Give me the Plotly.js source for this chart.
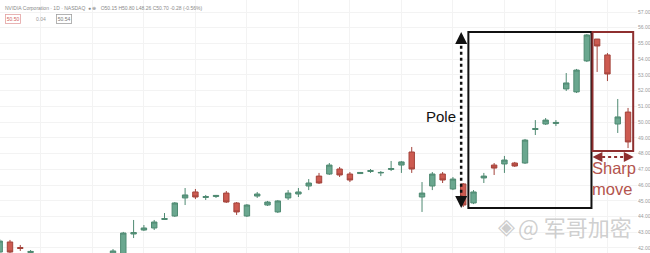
<!DOCTYPE html>
<html>
<head>
<meta charset="utf-8">
<script src="https://cdn.plot.ly/plotly-3.0.1.min.js"></script>
<style>
html,body{margin:0;padding:0;background:#fff;}
#chart{width:650px;height:253px;}
</style>
</head>
<body>
<div id="chart"></div>
<script>
// Bar index (daily sessions) and OHLC values
const bars  = [-1,0,1,2,10,11,12,13,14,15,16,17,18,19,20,21,22,23,24,25,26,27,28,29,30,31,32,33,34,35,36,37,38,39,40,41,42,43,44,45,46,47,48,49,50,51,52,53,54,55,56,57,58,59,60];
const open  = [41.74,42.38,42.03,41.71,41.49,41.49,42.89,43.14,43.27,43.81,44.03,45.18,45.56,45.21,45.27,45.49,44.86,44.03,45.30,44.73,44.29,45.18,45.43,45.94,46.57,46.70,47.02,46.70,46.73,46.86,46.77,46.99,47.27,48.10,45.24,45.94,46.70,45.75,46.07,44.86,46.45,47.27,47.34,47.40,47.40,49.53,49.88,49.91,52.11,51.92,53.89,55.28,54.27,49.88,50.64];
const high  = [42.57,42.51,42.19,41.87,41.93,43.02,43.78,43.46,43.78,44.22,44.92,45.81,45.75,45.37,45.37,45.62,44.92,44.79,45.56,44.99,45.05,45.68,45.81,46.38,46.77,47.40,47.15,46.83,46.83,47.02,46.89,47.53,47.53,48.42,46.19,46.83,46.83,46.51,46.13,45.68,46.77,47.40,47.85,47.47,48.93,50.13,50.26,50.13,53.12,53.38,55.60,55.28,54.39,51.47,50.90];
const low   = [41.68,41.68,41.81,41.62,41.30,41.36,42.63,43.08,43.14,43.78,43.97,44.73,45.11,45.05,45.18,44.86,44.10,43.97,45.18,44.67,44.22,45.05,45.24,45.68,46.07,46.64,46.51,46.19,46.70,46.77,46.57,46.89,46.77,46.77,44.29,45.68,46.13,45.68,44.60,44.79,46.13,46.64,46.77,47.15,47.34,49.18,49.82,49.75,51.98,51.85,53.82,53.19,52.61,49.31,48.35];
const close = [42.44,41.74,41.97,41.78,41.81,42.95,42.98,43.27,43.65,43.87,44.86,45.37,45.24,45.27,45.34,44.92,44.29,44.73,45.43,44.92,44.99,45.49,45.56,46.13,46.13,47.27,46.64,46.32,46.80,46.92,46.80,47.05,47.47,47.02,45.49,46.70,46.32,46.38,44.73,45.56,46.57,47.08,47.59,47.21,48.86,49.59,50.13,49.98,52.49,53.31,55.54,54.84,53.06,50.33,48.74];
const priceTicks = [42,43,44,45,46,47,48,49,50,51,52,53,54,55,56,57];

const trace = {
  type: 'candlestick',
  x: bars, open: open, high: high, low: low, close: close,
  increasing: {line: {color: '#4f8a72', width: 1}, fillcolor: '#6aa78f'},
  decreasing: {line: {color: '#a3433b', width: 1}, fillcolor: '#cd5b51'},
  whiskerwidth: 0,
  hoverinfo: 'skip'
};

const poleColor = '#111111';
const moveColor = '#8e2f2f';

const layout = {
  width: 650, height: 253,
  margin: {l: 0, r: 13, t: 0, b: 0},
  paper_bgcolor: '#ffffff', plot_bgcolor: '#ffffff',
  showlegend: false,
  boxgap: 0.25,
  xaxis: {
    range: [-0.97, 60.87], rangeslider: {visible: false},
    showticklabels: false, ticks: '', zeroline: false,
    showgrid: true, gridcolor: '#f3f3f3', tick0: 3, dtick: 5,
    showline: false, fixedrange: true
  },
  yaxis: {
    side: 'right', range: [41.68, 57.763],
    tickvals: priceTicks, tickformat: '.2f',
    tickfont: {family: 'Liberation Sans, Arial, sans-serif', size: 5, color: '#9a9a9a'},
    showgrid: true, gridcolor: '#f3f3f3', zeroline: false, ticks: '',
    ticklabelposition: 'outside', showline: false, fixedrange: true
  },
  shapes: [
    // pole box
    {type: 'rect', xref: 'x', yref: 'y', x0: 44.5, x1: 56.45, y0: 44.54, y1: 55.73,
     line: {color: poleColor, width: 2}},
    // vertical dotted arrow
    {type: 'line', xref: 'x', yref: 'y', x0: 43.8, x1: 43.8, y0: 44.75, y1: 55.5,
     line: {color: poleColor, width: 2.5, dash: 'dot'}},
    // sharp move box
    {type: 'rect', xref: 'x', yref: 'y', x0: 56.55, x1: 60.5, y0: 48.16, y1: 55.73,
     line: {color: moveColor, width: 2}},
    // horizontal dotted arrow
    {type: 'line', xref: 'x', yref: 'y', x0: 56.9, x1: 60.3, y0: 47.78, y1: 47.78,
     line: {color: moveColor, width: 2, dash: 'dot'}}
  ],
  annotations: [
    // arrowheads
    {xref: 'x', yref: 'y', x: 43.8, y: 55.73, ax: 0, ay: 7, text: '', showarrow: true,
     arrowhead: 2, arrowsize: 1.2, arrowwidth: 2, arrowcolor: poleColor},
    {xref: 'x', yref: 'y', x: 43.8, y: 44.54, ax: 0, ay: -7, text: '', showarrow: true,
     arrowhead: 2, arrowsize: 1.2, arrowwidth: 2, arrowcolor: poleColor},
    {xref: 'x', yref: 'y', x: 56.55, y: 47.78, ax: 7, ay: 0, text: '', showarrow: true,
     arrowhead: 2, arrowsize: 1.1, arrowwidth: 1.8, arrowcolor: moveColor},
    {xref: 'x', yref: 'y', x: 60.55, y: 47.78, ax: -7, ay: 0, text: '', showarrow: true,
     arrowhead: 2, arrowsize: 1.1, arrowwidth: 1.8, arrowcolor: moveColor},
    // labels
    {xref: 'x', yref: 'y', x: 41.8, y: 50.33, text: 'Pole', showarrow: false,
     font: {family: 'Liberation Sans, Arial, sans-serif', size: 15, color: '#111'}},
    {xref: 'x', yref: 'y', x: 56.4, y: 46.4, xanchor: 'left', yanchor: 'middle', align: 'left',
     text: 'Sharp<br>move', showarrow: false, borderpad: 0,
     font: {family: 'Liberation Sans, Arial, sans-serif', size: 16.5, color: '#b3544d'}},
    // watermark
    {xref: 'paper', yref: 'paper', x: 0.795, y: 0.105, xanchor: 'center', yanchor: 'middle',
     text: '◈', showarrow: false,
     font: {family: 'DejaVu Sans, sans-serif', size: 22, color: 'rgba(190,190,190,0.75)'}},
    {xref: 'paper', yref: 'paper', x: 0.81, y: 0.105, xanchor: 'left', yanchor: 'middle',
     text: '@ 军哥加密', showarrow: false,
     font: {family: 'Noto Sans CJK SC, sans-serif', size: 22, color: 'rgba(195,195,195,0.8)'}},
    // header
    {xref: 'paper', yref: 'paper', x: 0.005, y: 0.99, xanchor: 'left', yanchor: 'top',
     text: 'NVIDIA Corporation · 1D · NASDAQ  ● ⊕   O50.15 H50.80 L48.26 C50.70 -0.28 (-0.56%)', showarrow: false,
     font: {family: 'Liberation Sans, Arial, sans-serif', size: 5, color: '#8a8a8a'}},
    {xref: 'paper', yref: 'paper', x: 0.008, y: 0.945, xanchor: 'left', yanchor: 'top',
     text: '50.50', showarrow: false, bordercolor: '#e3a0a0', borderwidth: 0.8, borderpad: 1,
     font: {family: 'Liberation Sans, Arial, sans-serif', size: 5, color: '#d06060'}},
    {xref: 'paper', yref: 'paper', x: 0.053, y: 0.945, xanchor: 'left', yanchor: 'top',
     text: '0.04', showarrow: false,
     font: {family: 'Liberation Sans, Arial, sans-serif', size: 5, color: '#9a9a9a'}},
    {xref: 'paper', yref: 'paper', x: 0.088, y: 0.945, xanchor: 'left', yanchor: 'top',
     text: '50.54', showarrow: false, bordercolor: '#a0a0a0', borderwidth: 0.8, borderpad: 1,
     font: {family: 'Liberation Sans, Arial, sans-serif', size: 5, color: '#777'}}
  ]
};

Plotly.newPlot('chart', [trace], layout, {displayModeBar: false, staticPlot: true});
</script>
</body>
</html>
